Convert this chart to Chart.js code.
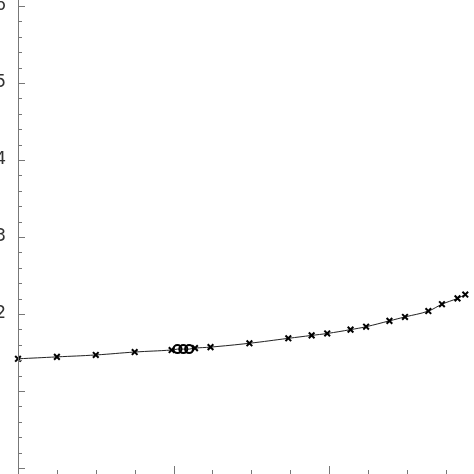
<!DOCTYPE html>
<html><head><style>html,body{margin:0;padding:0;background:#fff}#w{width:474px;height:474px}</style>
<script src="https://cdn.jsdelivr.net/npm/chart.js@4/dist/chart.umd.min.js"></script></head>
<body><div id="w"><canvas id="c"></canvas></div>
<script>
const xValues=[0,1,2,3,3.95,4.1,4.25,4.4,4.55,4.95,5.95,6.95,7.55,7.95,8.55,8.95,9.55,9.95,10.55,10.9,11.3,11.5];
const yValues=[1.418,1.443,1.468,1.506,1.532,1.544,1.544,1.544,1.557,1.57,1.62,1.684,1.722,1.747,1.797,1.835,1.911,1.962,2.038,2.127,2.203,2.253];
const markerStyles=xValues.map((x,i)=>(i>=5&&i<=7)?'circle':'crossRot');
const yTickLabels=['2','3','4','5','6'];
const axisPlugin={id:'axes',afterDraw(ch){
 const c=ch.ctx,a=ch.chartArea,xs=ch.scales.x,ys=ch.scales.y;
 c.save();c.strokeStyle='#777';c.lineWidth=1;
 c.beginPath();c.moveTo(a.left+0.5,0);c.lineTo(a.left+0.5,474);c.stroke();
 for(let v=0;v<=6.001;v+=0.2){const p=Math.round(ys.getPixelForValue(v))+0.5;const maj=Math.abs(v-Math.round(v))<1e-6;c.beginPath();c.moveTo(a.left,p);c.lineTo(a.left+(maj?7:4),p);c.stroke();}
 for(let v=1;v<=11;v++){const p=Math.round(xs.getPixelForValue(v))+0.5;const maj=v%4===0;c.beginPath();c.moveTo(p,474);c.lineTo(p,474-(maj?8:4));c.stroke();}
 c.fillStyle='#333';c.font='17px "DejaVu Sans"';c.textAlign='right';c.textBaseline='middle';
 yTickLabels.forEach(t=>{c.fillText(t,6,ys.getPixelForValue(+t));});
 c.restore();}};
new Chart(document.getElementById('c'),{type:'scatter',
 data:{datasets:[{data:xValues.map((x,i)=>({x,y:yValues[i]})),showLine:true,tension:0.4,borderColor:'#222',borderWidth:1,
 pointStyle:markerStyles,pointRadius:4,pointBorderColor:'#000',pointBackgroundColor:'rgba(0,0,0,0)',pointBorderWidth:2,clip:false}]},
 options:{responsive:true,maintainAspectRatio:false,animation:false,layout:{padding:{left:18,right:0,top:0,bottom:0}},
 plugins:{legend:{display:false},tooltip:{enabled:false}},
 scales:{x:{type:'linear',min:0,max:11.57,display:false},y:{min:0,max:6,display:false}}},
 plugins:[axisPlugin]});
</script></body></html>
